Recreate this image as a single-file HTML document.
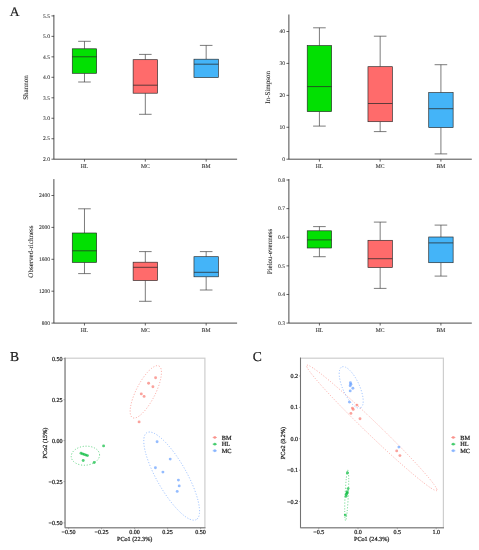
<!DOCTYPE html>
<html><head><meta charset="utf-8"><title>Figure</title>
<style>html,body{margin:0;padding:0;background:#fff}svg{display:block}text{font-family:"Liberation Serif", serif;fill:#1c1c1c;stroke:#1c1c1c;stroke-width:0.22px;text-rendering:geometricPrecision}</style>
</head><body>
<svg width="479" height="550" viewBox="0 0 479 550">
<rect width="479" height="550" fill="#fff"/>
<path d="M53.89 15.4V159.2H236.6" fill="none" stroke="#3c3c3c" stroke-width="0.92" stroke-linecap="square"/>
<path d="M51.44 15.9H54.04" stroke="#3c3c3c" stroke-width="0.8"/>
<text x="49.94" y="17.65" font-size="5.5" text-anchor="end" style="stroke-width:0.08px;fill:#333;stroke:#333">5.5</text>
<path d="M51.44 36.37H54.04" stroke="#3c3c3c" stroke-width="0.8"/>
<text x="49.94" y="38.12" font-size="5.5" text-anchor="end" style="stroke-width:0.08px;fill:#333;stroke:#333">5.0</text>
<path d="M51.44 56.84H54.04" stroke="#3c3c3c" stroke-width="0.8"/>
<text x="49.94" y="58.59" font-size="5.5" text-anchor="end" style="stroke-width:0.08px;fill:#333;stroke:#333">4.5</text>
<path d="M51.44 77.31H54.04" stroke="#3c3c3c" stroke-width="0.8"/>
<text x="49.94" y="79.06" font-size="5.5" text-anchor="end" style="stroke-width:0.08px;fill:#333;stroke:#333">4.0</text>
<path d="M51.44 97.79H54.04" stroke="#3c3c3c" stroke-width="0.8"/>
<text x="49.94" y="99.54" font-size="5.5" text-anchor="end" style="stroke-width:0.08px;fill:#333;stroke:#333">3.5</text>
<path d="M51.44 118.26H54.04" stroke="#3c3c3c" stroke-width="0.8"/>
<text x="49.94" y="120.01" font-size="5.5" text-anchor="end" style="stroke-width:0.08px;fill:#333;stroke:#333">3.0</text>
<path d="M51.44 138.73H54.04" stroke="#3c3c3c" stroke-width="0.8"/>
<text x="49.94" y="140.48" font-size="5.5" text-anchor="end" style="stroke-width:0.08px;fill:#333;stroke:#333">2.5</text>
<path d="M51.44 159.2H54.04" stroke="#3c3c3c" stroke-width="0.8"/>
<text x="49.94" y="160.95" font-size="5.5" text-anchor="end" style="stroke-width:0.08px;fill:#333;stroke:#333">2.0</text>
<path d="M84.47 159.2v2.4" stroke="#3c3c3c" stroke-width="0.8"/>
<text x="84.47" y="168.1" font-size="5.6" text-anchor="middle" style="stroke-width:0.1px;fill:#333;stroke:#333">HL</text>
<path d="M145.32 159.2v2.4" stroke="#3c3c3c" stroke-width="0.8"/>
<text x="145.32" y="168.1" font-size="5.6" text-anchor="middle" style="stroke-width:0.1px;fill:#333;stroke:#333">MC</text>
<path d="M206.17 159.2v2.4" stroke="#3c3c3c" stroke-width="0.8"/>
<text x="206.17" y="168.1" font-size="5.6" text-anchor="middle" style="stroke-width:0.1px;fill:#333;stroke:#333">BM</text>
<path d="M84.47 41.3V48.8M78.17 41.3h12.6M84.47 73.3V82.0M78.17 82.0h12.6" stroke="#444" stroke-width="0.7" fill="none"/>
<rect x="72.27" y="48.8" width="24.4" height="24.5" fill="#02e002" stroke="#262626" stroke-width="0.65"/>
<path d="M72.27 56.8h24.4" stroke="#2a2a2a" stroke-width="0.75"/>
<path d="M145.32 54.4V59.7M139.01999999999998 54.4h12.6M145.32 93.2V114.3M139.01999999999998 114.3h12.6" stroke="#444" stroke-width="0.7" fill="none"/>
<rect x="133.12" y="59.7" width="24.4" height="33.5" fill="#ff6b6b" stroke="#262626" stroke-width="0.65"/>
<path d="M133.12 85.2h24.4" stroke="#2a2a2a" stroke-width="0.75"/>
<path d="M206.17 45.4V59.2M199.86999999999998 45.4h12.6" stroke="#444" stroke-width="0.7" fill="none"/>
<rect x="193.97" y="59.2" width="24.4" height="18.3" fill="#44b4f8" stroke="#262626" stroke-width="0.65"/>
<path d="M193.97 64.2h24.4" stroke="#2a2a2a" stroke-width="0.75"/>
<text transform="translate(27.6 87.55) rotate(-90)" font-size="7" text-anchor="middle" style="stroke-width:0.08px;fill:#2a2a2a;stroke:#2a2a2a">Shannon</text>
<path d="M288.89000000000004 15.0V159.2H471.3" fill="none" stroke="#3c3c3c" stroke-width="0.92" stroke-linecap="square"/>
<path d="M286.44 31.5H289.04" stroke="#3c3c3c" stroke-width="0.8"/>
<text x="284.94" y="33.25" font-size="5.5" text-anchor="end" style="stroke-width:0.08px;fill:#333;stroke:#333">40</text>
<path d="M286.44 63.42H289.04" stroke="#3c3c3c" stroke-width="0.8"/>
<text x="284.94" y="65.17" font-size="5.5" text-anchor="end" style="stroke-width:0.08px;fill:#333;stroke:#333">30</text>
<path d="M286.44 95.35H289.04" stroke="#3c3c3c" stroke-width="0.8"/>
<text x="284.94" y="97.1" font-size="5.5" text-anchor="end" style="stroke-width:0.08px;fill:#333;stroke:#333">20</text>
<path d="M286.44 127.27H289.04" stroke="#3c3c3c" stroke-width="0.8"/>
<text x="284.94" y="129.01999999999998" font-size="5.5" text-anchor="end" style="stroke-width:0.08px;fill:#333;stroke:#333">10</text>
<path d="M286.44 159.2H289.04" stroke="#3c3c3c" stroke-width="0.8"/>
<text x="284.94" y="160.95" font-size="5.5" text-anchor="end" style="stroke-width:0.08px;fill:#333;stroke:#333">0</text>
<path d="M319.42 159.2v2.4" stroke="#3c3c3c" stroke-width="0.8"/>
<text x="319.42" y="168.1" font-size="5.6" text-anchor="middle" style="stroke-width:0.1px;fill:#333;stroke:#333">HL</text>
<path d="M380.17 159.2v2.4" stroke="#3c3c3c" stroke-width="0.8"/>
<text x="380.17" y="168.1" font-size="5.6" text-anchor="middle" style="stroke-width:0.1px;fill:#333;stroke:#333">MC</text>
<path d="M440.92 159.2v2.4" stroke="#3c3c3c" stroke-width="0.8"/>
<text x="440.92" y="168.1" font-size="5.6" text-anchor="middle" style="stroke-width:0.1px;fill:#333;stroke:#333">BM</text>
<path d="M319.42 27.8V45.6M313.12 27.8h12.6M319.42 111.6V126.1M313.12 126.1h12.6" stroke="#444" stroke-width="0.7" fill="none"/>
<rect x="307.22" y="45.6" width="24.4" height="66.0" fill="#02e002" stroke="#262626" stroke-width="0.65"/>
<path d="M307.22 86.6h24.4" stroke="#2a2a2a" stroke-width="0.75"/>
<path d="M380.17 36.2V66.7M373.87 36.2h12.6M380.17 121.7V131.6M373.87 131.6h12.6" stroke="#444" stroke-width="0.7" fill="none"/>
<rect x="367.97" y="66.7" width="24.4" height="55.0" fill="#ff6b6b" stroke="#262626" stroke-width="0.65"/>
<path d="M367.97 103.5h24.4" stroke="#2a2a2a" stroke-width="0.75"/>
<path d="M440.92 64.7V92.6M434.62 64.7h12.6M440.92 127.6V153.9M434.62 153.9h12.6" stroke="#444" stroke-width="0.7" fill="none"/>
<rect x="428.72" y="92.6" width="24.4" height="35.0" fill="#44b4f8" stroke="#262626" stroke-width="0.65"/>
<path d="M428.72 108.7h24.4" stroke="#2a2a2a" stroke-width="0.75"/>
<text transform="translate(270 87.35) rotate(-90)" font-size="7" text-anchor="middle" style="stroke-width:0.08px;fill:#2a2a2a;stroke:#2a2a2a">In-Simpson</text>
<path d="M53.89 179.6V323.1H236.6" fill="none" stroke="#3c3c3c" stroke-width="0.92" stroke-linecap="square"/>
<path d="M51.44 195.5H54.04" stroke="#3c3c3c" stroke-width="0.8"/>
<text x="49.94" y="197.25" font-size="5.5" text-anchor="end" style="stroke-width:0.08px;fill:#333;stroke:#333">2400</text>
<path d="M51.44 227.4H54.04" stroke="#3c3c3c" stroke-width="0.8"/>
<text x="49.94" y="229.15" font-size="5.5" text-anchor="end" style="stroke-width:0.08px;fill:#333;stroke:#333">2000</text>
<path d="M51.44 259.3H54.04" stroke="#3c3c3c" stroke-width="0.8"/>
<text x="49.94" y="261.05" font-size="5.5" text-anchor="end" style="stroke-width:0.08px;fill:#333;stroke:#333">1600</text>
<path d="M51.44 291.2H54.04" stroke="#3c3c3c" stroke-width="0.8"/>
<text x="49.94" y="292.95" font-size="5.5" text-anchor="end" style="stroke-width:0.08px;fill:#333;stroke:#333">1200</text>
<path d="M51.44 323.1H54.04" stroke="#3c3c3c" stroke-width="0.8"/>
<text x="49.94" y="324.85" font-size="5.5" text-anchor="end" style="stroke-width:0.08px;fill:#333;stroke:#333">800</text>
<path d="M84.47 323.1v2.4" stroke="#3c3c3c" stroke-width="0.8"/>
<text x="84.47" y="332.0" font-size="5.6" text-anchor="middle" style="stroke-width:0.1px;fill:#333;stroke:#333">HL</text>
<path d="M145.32 323.1v2.4" stroke="#3c3c3c" stroke-width="0.8"/>
<text x="145.32" y="332.0" font-size="5.6" text-anchor="middle" style="stroke-width:0.1px;fill:#333;stroke:#333">MC</text>
<path d="M206.17 323.1v2.4" stroke="#3c3c3c" stroke-width="0.8"/>
<text x="206.17" y="332.0" font-size="5.6" text-anchor="middle" style="stroke-width:0.1px;fill:#333;stroke:#333">BM</text>
<path d="M84.47 208.8V233.0M78.17 208.8h12.6M84.47 262.4V273.6M78.17 273.6h12.6" stroke="#444" stroke-width="0.7" fill="none"/>
<rect x="72.27" y="233.0" width="24.4" height="29.4" fill="#02e002" stroke="#262626" stroke-width="0.65"/>
<path d="M72.27 250.8h24.4" stroke="#2a2a2a" stroke-width="0.75"/>
<path d="M145.32 251.6V262.2M139.01999999999998 251.6h12.6M145.32 280.5V301.3M139.01999999999998 301.3h12.6" stroke="#444" stroke-width="0.7" fill="none"/>
<rect x="133.12" y="262.2" width="24.4" height="18.3" fill="#ff6b6b" stroke="#262626" stroke-width="0.65"/>
<path d="M133.12 267.3h24.4" stroke="#2a2a2a" stroke-width="0.75"/>
<path d="M206.17 251.6V256.7M199.86999999999998 251.6h12.6M206.17 276.8V290.0M199.86999999999998 290.0h12.6" stroke="#444" stroke-width="0.7" fill="none"/>
<rect x="193.97" y="256.7" width="24.4" height="20.1" fill="#44b4f8" stroke="#262626" stroke-width="0.65"/>
<path d="M193.97 272.3h24.4" stroke="#2a2a2a" stroke-width="0.75"/>
<text transform="translate(32.8 251.60000000000002) rotate(-90)" font-size="7" text-anchor="middle" style="stroke-width:0.08px;fill:#2a2a2a;stroke:#2a2a2a">Observed-richness</text>
<path d="M288.89000000000004 179.5V323.1H471.3" fill="none" stroke="#3c3c3c" stroke-width="0.92" stroke-linecap="square"/>
<path d="M286.44 180.0H289.04" stroke="#3c3c3c" stroke-width="0.8"/>
<text x="284.94" y="181.75" font-size="5.5" text-anchor="end" style="stroke-width:0.08px;fill:#333;stroke:#333">0.8</text>
<path d="M286.44 208.62H289.04" stroke="#3c3c3c" stroke-width="0.8"/>
<text x="284.94" y="210.37" font-size="5.5" text-anchor="end" style="stroke-width:0.08px;fill:#333;stroke:#333">0.7</text>
<path d="M286.44 237.24H289.04" stroke="#3c3c3c" stroke-width="0.8"/>
<text x="284.94" y="238.99" font-size="5.5" text-anchor="end" style="stroke-width:0.08px;fill:#333;stroke:#333">0.6</text>
<path d="M286.44 265.86H289.04" stroke="#3c3c3c" stroke-width="0.8"/>
<text x="284.94" y="267.61" font-size="5.5" text-anchor="end" style="stroke-width:0.08px;fill:#333;stroke:#333">0.5</text>
<path d="M286.44 294.48H289.04" stroke="#3c3c3c" stroke-width="0.8"/>
<text x="284.94" y="296.23" font-size="5.5" text-anchor="end" style="stroke-width:0.08px;fill:#333;stroke:#333">0.4</text>
<path d="M286.44 323.1H289.04" stroke="#3c3c3c" stroke-width="0.8"/>
<text x="284.94" y="324.85" font-size="5.5" text-anchor="end" style="stroke-width:0.08px;fill:#333;stroke:#333">0.3</text>
<path d="M319.42 323.1v2.4" stroke="#3c3c3c" stroke-width="0.8"/>
<text x="319.42" y="332.0" font-size="5.6" text-anchor="middle" style="stroke-width:0.1px;fill:#333;stroke:#333">HL</text>
<path d="M380.17 323.1v2.4" stroke="#3c3c3c" stroke-width="0.8"/>
<text x="380.17" y="332.0" font-size="5.6" text-anchor="middle" style="stroke-width:0.1px;fill:#333;stroke:#333">MC</text>
<path d="M440.92 323.1v2.4" stroke="#3c3c3c" stroke-width="0.8"/>
<text x="440.92" y="332.0" font-size="5.6" text-anchor="middle" style="stroke-width:0.1px;fill:#333;stroke:#333">BM</text>
<path d="M319.42 226.6V230.8M313.12 226.6h12.6M319.42 248.0V256.7M313.12 256.7h12.6" stroke="#444" stroke-width="0.7" fill="none"/>
<rect x="307.22" y="230.8" width="24.4" height="17.2" fill="#02e002" stroke="#262626" stroke-width="0.65"/>
<path d="M307.22 239.9h24.4" stroke="#2a2a2a" stroke-width="0.75"/>
<path d="M380.17 222.1V240.3M373.87 222.1h12.6M380.17 267.5V288.4M373.87 288.4h12.6" stroke="#444" stroke-width="0.7" fill="none"/>
<rect x="367.97" y="240.3" width="24.4" height="27.2" fill="#ff6b6b" stroke="#262626" stroke-width="0.65"/>
<path d="M367.97 258.7h24.4" stroke="#2a2a2a" stroke-width="0.75"/>
<path d="M440.92 225.1V237.0M434.62 225.1h12.6M440.92 262.7V276.1M434.62 276.1h12.6" stroke="#444" stroke-width="0.7" fill="none"/>
<rect x="428.72" y="237.0" width="24.4" height="25.7" fill="#44b4f8" stroke="#262626" stroke-width="0.65"/>
<path d="M428.72 242.9h24.4" stroke="#2a2a2a" stroke-width="0.75"/>
<text transform="translate(272 251.55) rotate(-90)" font-size="7" text-anchor="middle" style="stroke-width:0.08px;fill:#2a2a2a;stroke:#2a2a2a">Pielou-evenness</text>
<text transform="translate(9.7 15.9) scale(1.04 1)" font-size="13.0">A</text>
<text transform="translate(9.9 361.0) scale(1.0 1)" font-size="13.6">B</text>
<text transform="translate(252.7 361.0) scale(1.0 1)" font-size="13.6">C</text>
<rect x="65.04" y="358.2" width="139.86" height="169.6" fill="none" stroke="#cecece" stroke-width="1.2"/>
<path d="M65.04 357.59999999999997V527.8H205.5" fill="none" stroke="#727272" stroke-width="1"/>
<path d="M68.6 527.8v1.5" stroke="#777" stroke-width="0.6"/>
<text x="68.6" y="533.9" font-size="6.1" text-anchor="middle">−0.50</text>
<path d="M101.6 527.8v1.5" stroke="#777" stroke-width="0.6"/>
<text x="101.6" y="533.9" font-size="6.1" text-anchor="middle">−0.25</text>
<path d="M134.6 527.8v1.5" stroke="#777" stroke-width="0.6"/>
<text x="134.6" y="533.9" font-size="6.1" text-anchor="middle">0.00</text>
<path d="M167.6 527.8v1.5" stroke="#777" stroke-width="0.6"/>
<text x="167.6" y="533.9" font-size="6.1" text-anchor="middle">0.25</text>
<path d="M200.6 527.8v1.5" stroke="#777" stroke-width="0.6"/>
<text x="200.6" y="533.9" font-size="6.1" text-anchor="middle">0.50</text>
<path d="M63.540000000000006 358.6h1.5" stroke="#777" stroke-width="0.6"/>
<text x="62.64" y="360.6" font-size="6.1" text-anchor="end">0.50</text>
<path d="M63.540000000000006 399.7h1.5" stroke="#777" stroke-width="0.6"/>
<text x="62.64" y="401.7" font-size="6.1" text-anchor="end">0.25</text>
<path d="M63.540000000000006 440.6h1.5" stroke="#777" stroke-width="0.6"/>
<text x="62.64" y="442.6" font-size="6.1" text-anchor="end">0.00</text>
<path d="M63.540000000000006 481.6h1.5" stroke="#777" stroke-width="0.6"/>
<text x="62.64" y="483.6" font-size="6.1" text-anchor="end">−0.25</text>
<path d="M63.540000000000006 522.9h1.5" stroke="#777" stroke-width="0.6"/>
<text x="62.64" y="524.9" font-size="6.1" text-anchor="end">−0.50</text>
<text x="134.67" y="540.7" font-size="6.199999999999999" text-anchor="middle">PCo1 (22.3%)</text>
<text transform="translate(46.7 443.0) rotate(-90)" font-size="6.199999999999999" text-anchor="middle">PCo2 (15%)</text>
<ellipse cx="145.8" cy="391.85" rx="29" ry="9.5" transform="rotate(-63 145.8 391.85)" fill="none" stroke="#F8766D" stroke-width="0.7" stroke-dasharray="1.1 1.75" opacity="0.8"/>
<ellipse cx="85.4" cy="455.7" rx="14.2" ry="9.5" transform="rotate(-5 85.4 455.7)" fill="none" stroke="#00BA38" stroke-width="0.7" stroke-dasharray="1.1 1.75" opacity="0.8"/>
<ellipse cx="171.65" cy="476.1" rx="50" ry="14.9" transform="rotate(60.4 171.65 476.1)" fill="none" stroke="#619CFF" stroke-width="0.7" stroke-dasharray="1.1 1.75" opacity="0.8"/>
<circle cx="155.6" cy="377.8" r="1.45" fill="#F8766D" opacity="0.68"/>
<circle cx="148.6" cy="383.3" r="1.45" fill="#F8766D" opacity="0.68"/>
<circle cx="152.9" cy="386.8" r="1.45" fill="#F8766D" opacity="0.68"/>
<circle cx="141.3" cy="393.9" r="1.45" fill="#F8766D" opacity="0.68"/>
<circle cx="144.1" cy="396.4" r="1.45" fill="#F8766D" opacity="0.68"/>
<circle cx="139.1" cy="421.9" r="1.45" fill="#F8766D" opacity="0.68"/>
<circle cx="103.6" cy="445.9" r="1.45" fill="#00BA38" opacity="0.68"/>
<circle cx="81.0" cy="453.3" r="1.45" fill="#00BA38" opacity="0.68"/>
<circle cx="82.6" cy="453.9" r="1.45" fill="#00BA38" opacity="0.68"/>
<circle cx="84.3" cy="454.5" r="1.45" fill="#00BA38" opacity="0.68"/>
<circle cx="86.0" cy="455.1" r="1.45" fill="#00BA38" opacity="0.68"/>
<circle cx="87.5" cy="455.6" r="1.45" fill="#00BA38" opacity="0.68"/>
<circle cx="83.2" cy="460.5" r="1.45" fill="#00BA38" opacity="0.68"/>
<circle cx="94.2" cy="462.5" r="1.45" fill="#00BA38" opacity="0.68"/>
<circle cx="157.1" cy="441.8" r="1.45" fill="#619CFF" opacity="0.68"/>
<circle cx="170.2" cy="459.1" r="1.45" fill="#619CFF" opacity="0.68"/>
<circle cx="155.4" cy="467.8" r="1.45" fill="#619CFF" opacity="0.68"/>
<circle cx="162.9" cy="472.1" r="1.45" fill="#619CFF" opacity="0.68"/>
<circle cx="178.4" cy="480.1" r="1.45" fill="#619CFF" opacity="0.68"/>
<circle cx="179.2" cy="485.9" r="1.45" fill="#619CFF" opacity="0.68"/>
<circle cx="177.2" cy="491.4" r="1.45" fill="#619CFF" opacity="0.68"/>
<path d="M212.60000000000002 437.5h4.4" stroke="#F8766D" stroke-width="0.8" opacity="0.6"/>
<circle cx="214.8" cy="437.5" r="1.45" fill="#F8766D" opacity="0.62"/>
<text x="221.7" y="439.75" font-size="6.3">BM</text>
<path d="M212.60000000000002 444.15h4.4" stroke="#00BA38" stroke-width="0.8" opacity="0.6"/>
<circle cx="214.8" cy="444.15" r="1.45" fill="#00BA38" opacity="0.62"/>
<text x="221.7" y="446.4" font-size="6.3">HL</text>
<path d="M212.60000000000002 450.8h4.4" stroke="#619CFF" stroke-width="0.8" opacity="0.6"/>
<circle cx="214.8" cy="450.8" r="1.45" fill="#619CFF" opacity="0.62"/>
<text x="221.7" y="453.05" font-size="6.3">MC</text>
<rect x="300.5" y="358.2" width="142.9" height="169.6" fill="none" stroke="#cecece" stroke-width="1.2"/>
<path d="M300.5 357.59999999999997V527.8H444.0" fill="none" stroke="#727272" stroke-width="1"/>
<path d="M318.8 527.8v1.5" stroke="#777" stroke-width="0.6"/>
<text x="318.8" y="533.9" font-size="6.1" text-anchor="middle">−0.5</text>
<path d="M358.0 527.8v1.5" stroke="#777" stroke-width="0.6"/>
<text x="358.0" y="533.9" font-size="6.1" text-anchor="middle">0.0</text>
<path d="M397.3 527.8v1.5" stroke="#777" stroke-width="0.6"/>
<text x="397.3" y="533.9" font-size="6.1" text-anchor="middle">0.5</text>
<path d="M436.2 527.8v1.5" stroke="#777" stroke-width="0.6"/>
<text x="436.2" y="533.9" font-size="6.1" text-anchor="middle">1.0</text>
<path d="M299.0 376.0h1.5" stroke="#777" stroke-width="0.6"/>
<text x="298.1" y="378.0" font-size="6.1" text-anchor="end">0.2</text>
<path d="M299.0 407.4h1.5" stroke="#777" stroke-width="0.6"/>
<text x="298.1" y="409.4" font-size="6.1" text-anchor="end">0.1</text>
<path d="M299.0 438.7h1.5" stroke="#777" stroke-width="0.6"/>
<text x="298.1" y="440.7" font-size="6.1" text-anchor="end">0.0</text>
<path d="M299.0 470.2h1.5" stroke="#777" stroke-width="0.6"/>
<text x="298.1" y="472.2" font-size="6.1" text-anchor="end">−0.1</text>
<path d="M299.0 501.6h1.5" stroke="#777" stroke-width="0.6"/>
<text x="298.1" y="503.6" font-size="6.1" text-anchor="end">−0.2</text>
<text x="371.65" y="540.7" font-size="6.199999999999999" text-anchor="middle">PCo1 (24.3%)</text>
<text transform="translate(285 443.0) rotate(-90)" font-size="6.199999999999999" text-anchor="middle">PCo2 (9.2%)</text>
<ellipse cx="371.8" cy="427.9" rx="90.3" ry="6.5" transform="rotate(43.9 371.8 427.9)" fill="none" stroke="#F8766D" stroke-width="0.7" stroke-dasharray="1.1 1.75" opacity="0.8"/>
<ellipse cx="346.7" cy="495.2" rx="25.4" ry="1.6" transform="rotate(-87.3 346.7 495.2)" fill="none" stroke="#00BA38" stroke-width="0.7" stroke-dasharray="1.1 1.75" opacity="0.8"/>
<ellipse cx="351.2" cy="387.4" rx="22.5" ry="8.3" transform="rotate(65.5 351.2 387.4)" fill="none" stroke="#619CFF" stroke-width="0.7" stroke-dasharray="1.1 1.75" opacity="0.8"/>
<circle cx="356.9" cy="405.1" r="1.45" fill="#F8766D" opacity="0.68"/>
<circle cx="352.4" cy="408.1" r="1.45" fill="#F8766D" opacity="0.68"/>
<circle cx="353.2" cy="409.4" r="1.45" fill="#F8766D" opacity="0.68"/>
<circle cx="350.9" cy="413.4" r="1.45" fill="#F8766D" opacity="0.68"/>
<circle cx="360" cy="418.7" r="1.45" fill="#F8766D" opacity="0.68"/>
<circle cx="396.7" cy="450.9" r="1.45" fill="#F8766D" opacity="0.68"/>
<circle cx="399.9" cy="455.6" r="1.45" fill="#F8766D" opacity="0.68"/>
<circle cx="347.4" cy="473" r="1.45" fill="#00BA38" opacity="0.68"/>
<circle cx="348.1" cy="488.6" r="1.45" fill="#00BA38" opacity="0.68"/>
<circle cx="347.2" cy="491.8" r="1.45" fill="#00BA38" opacity="0.68"/>
<circle cx="346.4" cy="494.3" r="1.45" fill="#00BA38" opacity="0.68"/>
<circle cx="346" cy="496.3" r="1.45" fill="#00BA38" opacity="0.68"/>
<circle cx="347.0" cy="493" r="1.45" fill="#00BA38" opacity="0.68"/>
<circle cx="345.3" cy="515.1" r="1.45" fill="#00BA38" opacity="0.68"/>
<circle cx="350.4" cy="382.8" r="1.45" fill="#619CFF" opacity="0.68"/>
<circle cx="350.9" cy="384.3" r="1.45" fill="#619CFF" opacity="0.68"/>
<circle cx="350.2" cy="385.8" r="1.45" fill="#619CFF" opacity="0.68"/>
<circle cx="352.9" cy="388.3" r="1.45" fill="#619CFF" opacity="0.68"/>
<circle cx="350.2" cy="390.9" r="1.45" fill="#619CFF" opacity="0.68"/>
<circle cx="349.4" cy="402.1" r="1.45" fill="#619CFF" opacity="0.68"/>
<circle cx="398.9" cy="447.1" r="1.45" fill="#619CFF" opacity="0.68"/>
<path d="M451.1 437.5h4.4" stroke="#F8766D" stroke-width="0.8" opacity="0.6"/>
<circle cx="453.3" cy="437.5" r="1.45" fill="#F8766D" opacity="0.62"/>
<text x="460.2" y="439.75" font-size="6.3">BM</text>
<path d="M451.1 444.15h4.4" stroke="#00BA38" stroke-width="0.8" opacity="0.6"/>
<circle cx="453.3" cy="444.15" r="1.45" fill="#00BA38" opacity="0.62"/>
<text x="460.2" y="446.4" font-size="6.3">HL</text>
<path d="M451.1 450.8h4.4" stroke="#619CFF" stroke-width="0.8" opacity="0.6"/>
<circle cx="453.3" cy="450.8" r="1.45" fill="#619CFF" opacity="0.62"/>
<text x="460.2" y="453.05" font-size="6.3">MC</text>
</svg>
</body></html>
